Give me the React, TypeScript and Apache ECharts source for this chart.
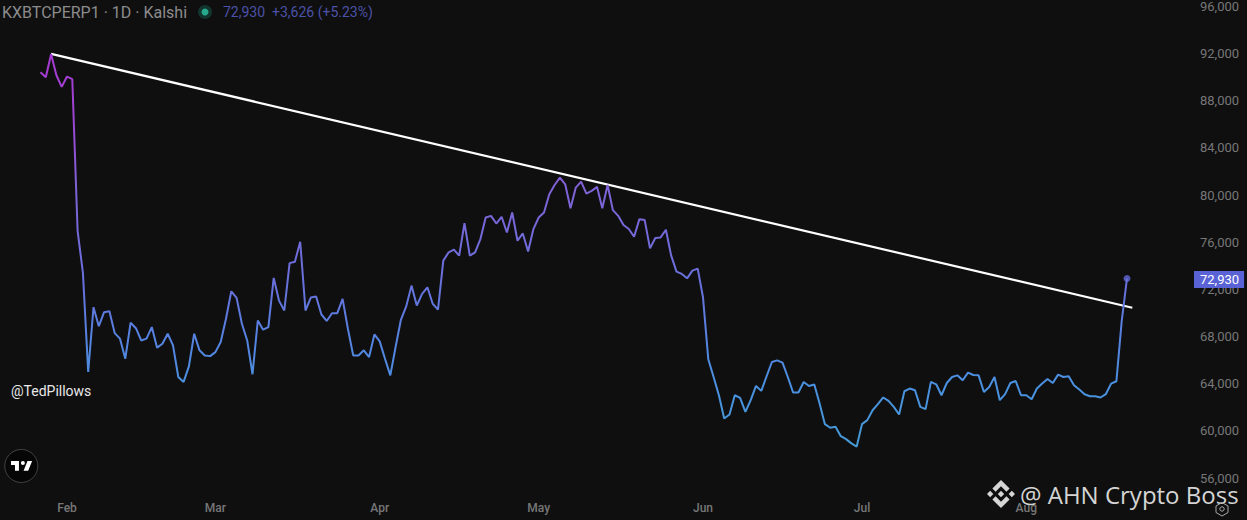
import React, { useEffect, useRef } from "react";
import * as echarts from "echarts";

// Daily closes. First value is 27 Jan (day -5 counted from 1 Feb).
const lateJanuary = [90420, 90000, 91950, 90170, 89180];
const february = [90060, 89830, 76970, 73420, 64990, 70490, 68880, 70070, 70150, 68290, 67820, 66120, 69170, 68710, 67670, 67820, 68800, 67060, 67390, 68240, 67250, 64570, 64150, 65470, 68240, 66830, 66400, 66340];
const march = [66680, 67530, 69510, 71840, 71280, 69080, 67670, 64800, 69360, 68580, 68800, 72970, 71050, 70210, 74230, 74350, 76040, 70210, 71310, 71390, 69870, 69320, 69980, 69980, 71200, 68660, 66400, 66400, 66830, 66260, 68180];
const april = [67590, 66120, 64710, 67110, 69420, 70550, 72320, 70630, 71620, 72180, 70780, 70290, 74440, 75140, 75370, 74860, 77620, 74860, 75140, 76270, 78100, 78240, 77590, 78160, 76830, 78520, 76130, 76750, 75220, 77120];
const may = [78100, 78520, 80080, 80860, 81480, 80920, 78890, 80640, 81140, 80130, 80360, 80700, 78890, 80860, 78720, 78240, 77460, 77120, 76470, 77960, 77880, 75480, 76360, 76410, 77060, 74860, 73510, 73310, 72940, 73590, 73760];
const june = [71330, 66070, 64570, 63020, 61050, 61390, 63020, 62790, 61610, 62600, 63810, 63390, 64630, 65840, 65980, 65790, 64570, 63250, 63250, 64150, 63810, 63930, 62320, 60570, 60260, 60340, 59550, 59300, 58940, 58670];
const july = [60570, 60910, 61750, 62260, 62830, 62540, 62030, 61390, 63360, 63590, 63440, 62030, 61840, 64150, 63950, 63020, 64060, 64570, 64710, 64290, 64940, 64740, 64710, 63300, 63720, 64570, 62600, 63110, 64060, 64230, 63020];
const august = [63020, 62680, 63590, 64010, 64400, 64060, 64770, 64570, 64630, 63870, 63500, 63110, 62940, 62940, 62830, 63110, 64010, 64210, 69304, 72930];

const closes = [...lateJanuary, ...february, ...march, ...april, ...may, ...june, ...july, ...august];
const monthLabels = ["Feb", "Mar", "Apr", "May", "Jun", "Jul", "Aug", "Sep"];
const monthStartDays = [0, 28, 59, 89, 120, 150, 181, 212];
const trendDays = [-3, 201];
const trendValues = [91980, 70440];
const lastPriceLabel = "72,930";
const headerTitle = "KXBTCPERP1 · 1D · Kalshi";
const headerPrice = "72,930  +3,626 (+5.23%)";

const firstDay = -5;
const points = closes.map((v, i) => [firstDay + i, v]);

echarts.graphic.registerShape(
  "tvLogo",
  echarts.graphic.extendPath("M14 6H2v6h6v9h6V6zM28 21h-7l6-15h7l-6 15zM20 12a3 3 0 1 0 0-6a3 3 0 0 0 0 6z", {}) as any
);
echarts.graphic.registerShape(
  "bnbLogo",
  echarts.graphic.extendPath(
    "M38.73 53.2l24.59-24.58 24.6 24.6 14.3-14.31L63.32 0 24.43 38.9zM0 63.31l14.3-14.31 14.31 14.31-14.31 14.3zM38.73 73.41l24.59 24.59 24.6-24.6 14.31 14.29-38.9 38.91-38.91-38.88-.02-.02zM98.01 63.31l14.3-14.31 14.3 14.3-14.3 14.32zM77.83 63.3L63.32 48.78 52.59 59.51l-1.24 1.23-2.54 2.54 14.51 14.5 14.51-14.47z",
    {}
  ) as any
);

export default function App() {
  const ref = useRef<HTMLDivElement>(null);
  useEffect(() => {
    const chart = echarts.init(ref.current!, undefined, { renderer: "svg" });
    const pxPerDay = 5.3;
    const labelColor = "#777777";
    chart.setOption({
      animation: false,
      backgroundColor: "#0f0f10",
      grid: { left: 0, right: 57, top: 5, bottom: 42 },
      xAxis: {
        type: "value",
        min: -67 / pxPerDay,
        max: (1190 - 67) / pxPerDay,
        axisLine: { show: false },
        axisTick: { show: false },
        splitLine: { show: false },
        axisLabel: {
          customValues: monthStartDays,
          margin: 24,
          fontFamily: "Roboto",
          fontSize: 12,
          fontWeight: 500,
          color: labelColor,
          hideOverlap: false,
          formatter: (v: number) => {
            const name = monthLabels[monthStartDays.indexOf(v)] ?? "";
            return name === "Sep" ? "{cut|Se}" : name;
          },
          rich: {
            cut: { padding: [0, 9, 0, 0], fontFamily: "Roboto", fontSize: 12, fontWeight: 500, color: labelColor },
          },
        },
      },
      yAxis: {
        type: "value",
        position: "right",
        min: 56000,
        max: 96000,
        interval: 4000,
        axisLine: { show: false },
        axisTick: { show: false },
        splitLine: { show: false },
        axisLabel: {
          margin: 10,
          fontFamily: "Roboto",
          fontSize: 13,
          color: labelColor,
          formatter: (v: number) => v.toLocaleString("en-US"),
        },
      },
      series: [
        {
          type: "line",
          data: trendDays.map((d, i) => [d, trendValues[i]]),
          showSymbol: false,
          silent: true,
          lineStyle: { color: "#ffffff", width: 2.2 },
        },
        {
          type: "line",
          data: points,
          showSymbol: false,
          silent: true,
          lineStyle: {
            width: 2,
            color: new echarts.graphic.LinearGradient(0, 0, 0, 1, [
              { offset: 0, color: "#a83ad4" },
              { offset: 0.18, color: "#9a46d2" },
              { offset: 0.34, color: "#7f62d6" },
              { offset: 0.6, color: "#6672dc" },
              { offset: 0.72, color: "#5682e0" },
              { offset: 0.84, color: "#4a90e0" },
              { offset: 1, color: "#4599d4" },
            ]),
          },
          endLabel: {
            show: true,
            formatter: () => lastPriceLabel,
            color: "#ffffff",
            fontFamily: "Roboto",
            fontSize: 13,
            fontWeight: 400,
            backgroundColor: "#5a63d6",
            padding: [2, 5, 2, 6],
            distance: 5,
            offset: [62, 1],
          },
        },
        {
          type: "scatter",
          data: [points[points.length - 1]],
          symbolSize: 7,
          silent: true,
          itemStyle: { color: "#6068d8" },
        },
      ],
      graphic: [
        { type: "text", x: 2, y: 12, style: { text: headerTitle, fill: "#8c8c8c", font: "16px Roboto", textVerticalAlign: "middle" } },
        { type: "circle", shape: { cx: 205, cy: 12, r: 7 }, style: { fill: "#12352e" } },
        { type: "circle", shape: { cx: 205, cy: 12, r: 3.5 }, style: { fill: "#27a98c" } },
        { type: "text", x: 223, y: 12, style: { text: headerPrice, fill: "#4c52a8", font: "14px Roboto", textVerticalAlign: "middle" } },
        { type: "text", x: 11, y: 391, style: { text: "@TedPillows", fill: "#e8e8e8", font: "14px Roboto", textVerticalAlign: "middle" } },
        { type: "circle", shape: { cx: 21.3, cy: 466, r: 16.5 }, style: { fill: "#060606", stroke: "#444444", lineWidth: 1 } },
        { type: "tvLogo", x: 9.7, y: 457, scaleX: 0.66, scaleY: 0.66, style: { fill: "#ffffff" } },
        { type: "bnbLogo", x: 987, y: 480, scaleX: 0.221, scaleY: 0.221, style: { fill: "#d6d6d6" } },
        { type: "text", x: 1020, y: 494, style: { text: "@ AHN Crypto Boss", fill: "#d4d4d4", font: "24px 'Open Sans'", textVerticalAlign: "middle" } },
        {
          type: "polygon",
          shape: { points: [[1222, 502.5], [1228, 506], [1228, 512.5], [1222, 516], [1216, 512.5], [1216, 506]] },
          style: { fill: "none", stroke: "#a8a8a8", lineWidth: 1 },
        },
        { type: "circle", shape: { cx: 1222, cy: 509, r: 2.2 }, style: { fill: "none", stroke: "#a8a8a8", lineWidth: 1 } },
      ],
    });
    return () => chart.dispose();
  }, []);
  return <div ref={ref} style={{ position: "absolute", left: 0, top: 0, width: 1247, height: 520 }} />;
}
